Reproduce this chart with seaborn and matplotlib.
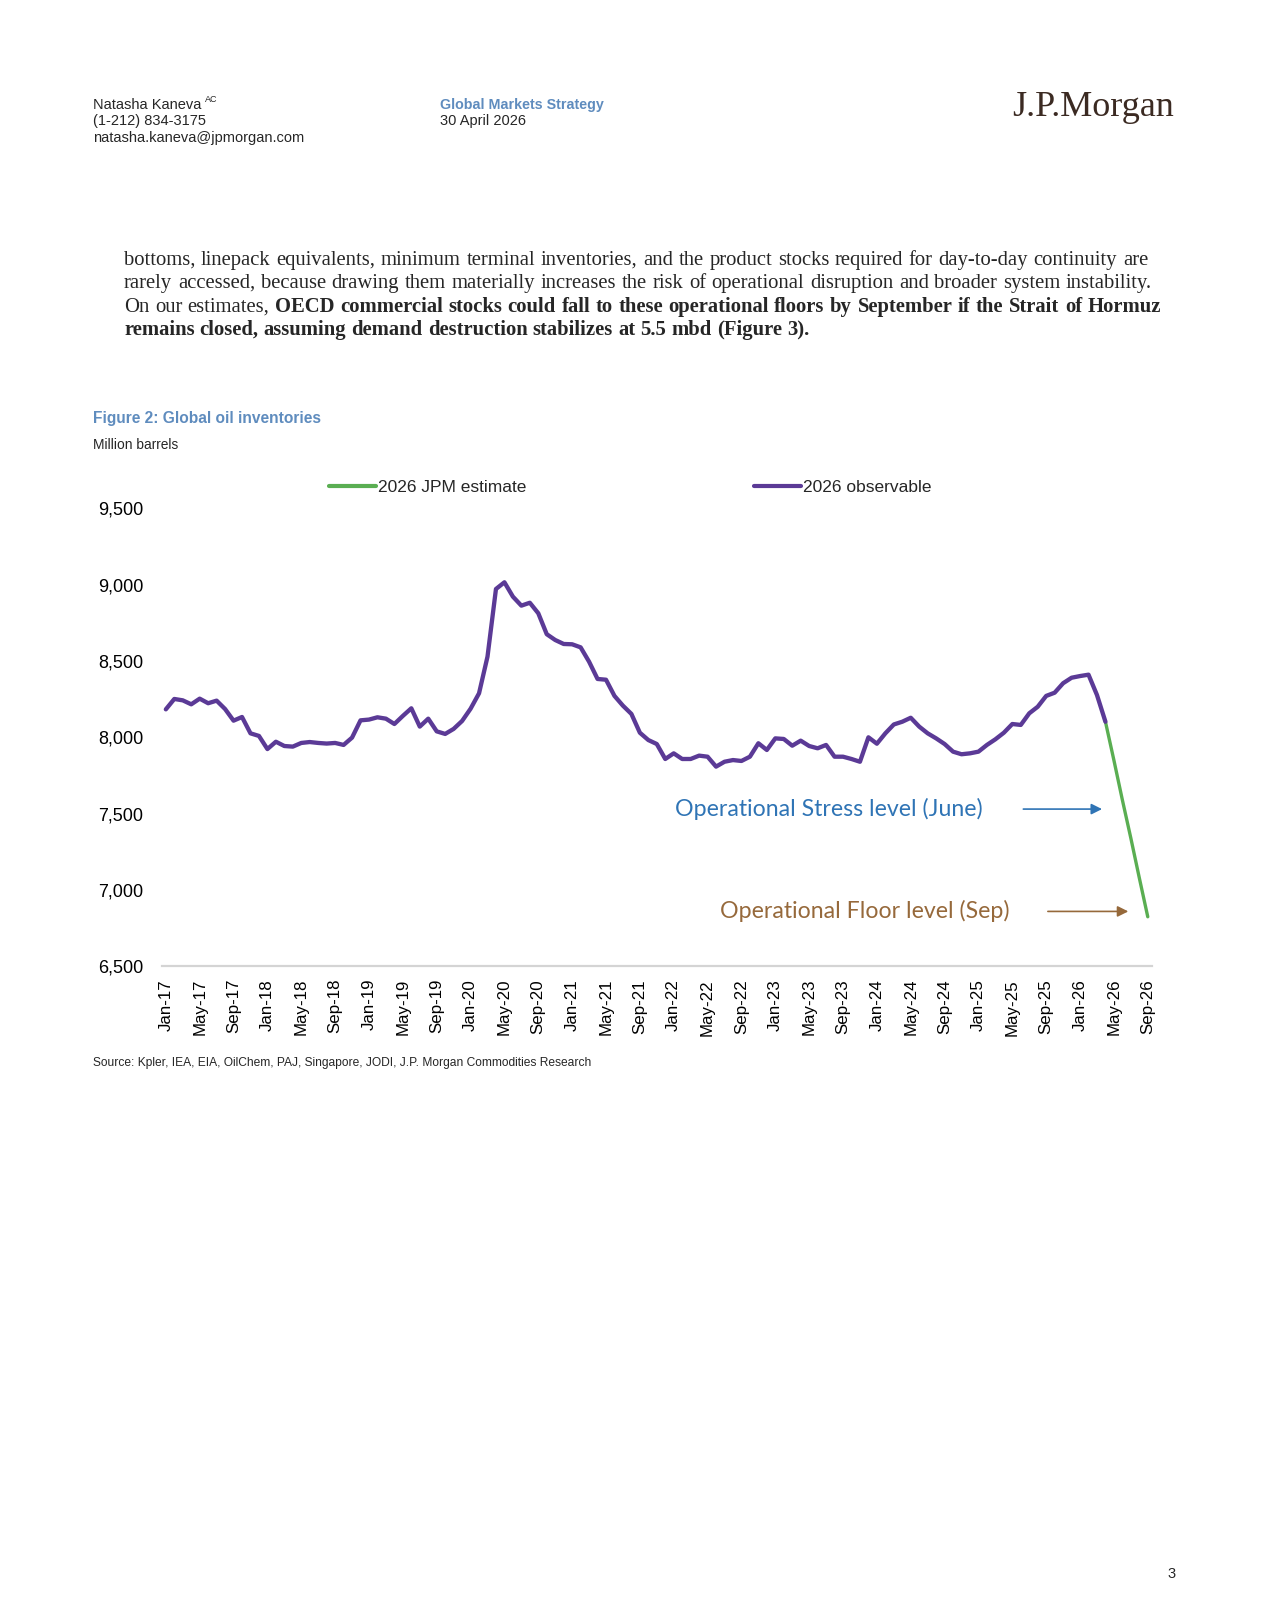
import matplotlib
matplotlib.use("Agg")
import matplotlib.pyplot as plt
import seaborn as sns
import pandas as pd
import numpy as np
from matplotlib.lines import Line2D

# ---------------- data ----------------
tick_labels = ["Jan-17", "May-17", "Sep-17", "Jan-18", "May-18", "Sep-18", "Jan-19", "May-19",
               "Sep-19", "Jan-20", "May-20", "Sep-20", "Jan-21", "May-21", "Sep-21", "Jan-22",
               "May-22", "Sep-22", "Jan-23", "May-23", "Sep-23", "Jan-24", "May-24", "Sep-24",
               "Jan-25", "May-25", "Sep-25", "Jan-26", "May-26", "Sep-26"]

# 2026 observable (monthly, Jan-17 .. Apr-26), million barrels
observable = [8183, 8251, 8242, 8216, 8253, 8223, 8240, 8185, 8109, 8133, 8026, 8009,
              7923, 7971, 7943, 7939, 7963, 7969, 7963, 7959, 7963, 7950, 7998, 8111,
              8116, 8131, 8122, 8087, 8140, 8190, 8070, 8122, 8039, 8022, 8055, 8107,
              8187, 8288, 8528, 8971, 9015, 8921, 8862, 8881, 8812, 8675, 8637, 8611,
              8609, 8589, 8495, 8382, 8377, 8271, 8207, 8153, 8030, 7982, 7956, 7858,
              7895, 7858, 7858, 7880, 7873, 7808, 7840, 7851, 7845, 7873, 7961, 7917,
              7993, 7989, 7945, 7978, 7943, 7928, 7950, 7873, 7873, 7858, 7840, 8000,
              7958, 8026, 8084, 8102, 8128, 8070, 8026, 7993, 7956, 7906, 7889, 7895,
              7906, 7950, 7987, 8030, 8087, 8081, 8157, 8200, 8271, 8292, 8354, 8390,
              8401, 8410, 8277, 8102]
# 2026 JPM estimate (Apr-26 .. Sep-26)
estimate = [8102, 7850, 7590, 7340, 7080, 6825]

series_names = ["2026 JPM estimate", "2026 observable"]
yticks = [6500, 7000, 7500, 8000, 8500, 9000, 9500]
stress_level = 7530
floor_level = 6860
stress_label = "Operational Stress level (June)"
floor_label = "Operational Floor level (Sep)"

# ---------------- styling ----------------
W, H = 1266, 1604
sns.set_style("white")
NARROW = ["Liberation Sans Narrow", "Liberation Sans", "DejaVu Sans"]
SANS = ["Liberation Sans", "DejaVu Sans"]
SERIF = ["Liberation Serif", "DejaVu Serif"]
CAL = ["Lato", "DejaVu Sans"]
plt.rcParams["font.family"] = SANS

PURPLE = "#5B3A96"
GREEN = "#5AAE52"
BLUE_T = "#2F74B5"
BROWN = "#96693B"
HDR_BLUE = "#5F8CBE"

fig = plt.figure(figsize=(W / 100, H / 100), dpi=100)
fig.patch.set_facecolor("white")


def fx(x):
    return x / W


def fy(y):
    return 1 - y / H


# ---------------- page header ----------------
fig.text(fx(93), fy(105), "Natasha Kaneva", fontsize=10.5, family=SANS, va="center")
fig.text(fx(205), fy(100), "AC", fontsize=6.5, family=SANS, va="center")
fig.text(fx(93), fy(121), "(1-212) 834-3175", fontsize=10.5, family=SANS, va="center")
fig.text(fx(93), fy(138), "natasha.kaneva@jpmorgan.com", fontsize=10.5, family=SANS, va="center")
fig.text(fx(440), fy(105), "Global Markets Strategy", fontsize=10.3, family=SANS,
         fontweight="bold", color=HDR_BLUE, va="center")
fig.text(fx(440), fy(121), "30 April 2026", fontsize=10.5, family=SANS, va="center")
fig.text(fx(1174), fy(107), "J.P.Morgan", fontsize=26, family=SERIF, color="#3B2A22",
         ha="right", va="center")

# ---------------- body paragraph (justified) ----------------
renderer = fig.canvas.get_renderer()
BODY_SIZE = 14.9


def word_width(s, weight):
    t = fig.text(0, 0, s, fontsize=BODY_SIZE, family=SERIF, fontweight=weight)
    w = t.get_window_extent(renderer).width
    t.remove()
    return w


def draw_line(segments, y_base, x0, x1, justify=True):
    words = []
    for txt, wgt in segments:
        for w in txt.split():
            words.append((w, wgt))
    widths = [word_width(w, g) for w, g in words]
    space = word_width("a a", "normal") - word_width("aa", "normal")
    if justify and len(words) > 1:
        gap = (x1 - x0 - sum(widths)) / (len(words) - 1)
    else:
        gap = space
    x = x0
    for (w, g), wd in zip(words, widths):
        fig.text(fx(x), fy(y_base), w, fontsize=BODY_SIZE, family=SERIF, fontweight=g,
                 va="baseline", ha="left")
        x += wd + gap


draw_line([("bottoms, linepack equivalents, minimum terminal inventories, and the product "
            "stocks required for day-to-day continuity are", "normal")], 265, 124, 1148)
draw_line([("rarely accessed, because drawing them materially increases the risk of operational "
            "disruption and broader system instability.", "normal")], 288, 124, 1152)
draw_line([("On our estimates,", "normal"),
           ("OECD commercial stocks could fall to these operational floors by September if the "
            "Strait of Hormuz", "bold")], 312, 124, 1161)
draw_line([("remains closed, assuming demand destruction stabilizes at 5.5 mbd (Figure 3).",
            "bold")], 335, 124, 1161, justify=False)

# ---------------- figure title ----------------
fig.text(fx(93), fy(419), "Figure 2: Global oil inventories", fontsize=11.2, family=NARROW,
         fontweight="bold", color=HDR_BLUE, va="center")
fig.text(fx(93), fy(445), "Million barrels", fontsize=9.9, family=NARROW, va="center")

# ---------------- chart ----------------
ax_left, ax_right, ax_top, ax_bottom = 161.6, 1152.5, 508.2, 966.4
ax = fig.add_axes([fx(ax_left), fy(ax_bottom), (ax_right - ax_left) / W, (ax_bottom - ax_top) / H])

obs_idx = np.arange(len(observable))
est_idx = np.arange(len(observable) - 1, len(observable) - 1 + len(estimate))
df_obs = pd.DataFrame({"month": obs_idx, "value": observable, "series": series_names[1]})
df_est = pd.DataFrame({"month": est_idx, "value": estimate, "series": series_names[0]})

sns.lineplot(data=df_est, x="month", y="value", color=GREEN, linewidth=2.4, ax=ax,
             legend=False, zorder=3)
sns.lineplot(data=df_obs, x="month", y="value", color=PURPLE, linewidth=3.1, ax=ax,
             legend=False, zorder=4)

n_months = len(observable) - 1 + len(estimate)
ax.set_xlim(-0.5, n_months - 1 + 0.56)
ax.set_ylim(yticks[0], yticks[-1])
ax.set_xticks(np.arange(0, n_months, 4))
ax.set_xticklabels(tick_labels, rotation=90, fontsize=12.2, family=NARROW)
ax.set_yticks(yticks)
ax.set_yticklabels([f"{v:,}" for v in yticks], fontsize=13, family=NARROW)
ax.set_xlabel("")
ax.set_ylabel("")
for s in ["top", "right", "left"]:
    ax.spines[s].set_visible(False)
ax.spines["bottom"].set_color("#D4D4D4")
ax.spines["bottom"].set_linewidth(1.6)
ax.tick_params(axis="x", length=6, width=1.3, color="#D4D4D4", pad=3, labelcolor="black")
ax.tick_params(axis="y", length=0, pad=13, labelcolor="black")
ax.grid(False)
ax.set_facecolor("none")
ax.patch.set_alpha(0)

# annotations
ax.text(60.2, stress_level, stress_label, fontsize=16.7, family=CAL, color=BLUE_T,
        va="center", ha="left")
ax.annotate("", xy=(110.6, stress_level), xytext=(101.3, stress_level),
            arrowprops=dict(arrowstyle="-|>", color=BLUE_T, lw=1.2, mutation_scale=16,
                            shrinkA=0, shrinkB=0))
ax.text(65.5, floor_level, floor_label, fontsize=16.7, family=CAL, color=BROWN,
        va="center", ha="left")
ax.annotate("", xy=(113.7, floor_level), xytext=(104.2, floor_level),
            arrowprops=dict(arrowstyle="-|>", color=BROWN, lw=1.2, mutation_scale=16,
                            shrinkA=0, shrinkB=0))

# legend (two separate entries)
for name, col, xpos in [(series_names[0], GREEN, 329), (series_names[1], PURPLE, 754)]:
    fig.legend(handles=[Line2D([], [], color=col, lw=3.0)], labels=[name],
               loc="center left", bbox_to_anchor=(fx(xpos), fy(487)), frameon=False,
               handlelength=2.7, handletextpad=0.15, borderpad=0, borderaxespad=0,
               prop={"family": NARROW, "size": 12.5})

# ---------------- source + page number ----------------
fig.text(fx(93), fy(1063), "Source: Kpler, IEA, EIA, OilChem, PAJ, Singapore, JODI, "
         "J.P. Morgan Commodities Research", fontsize=8.65, family=NARROW, va="center")
fig.text(fx(1176), fy(1574), "3", fontsize=10.5, family=SANS, ha="right", va="center")

fig.savefig("out.png", dpi=100, facecolor="white")
